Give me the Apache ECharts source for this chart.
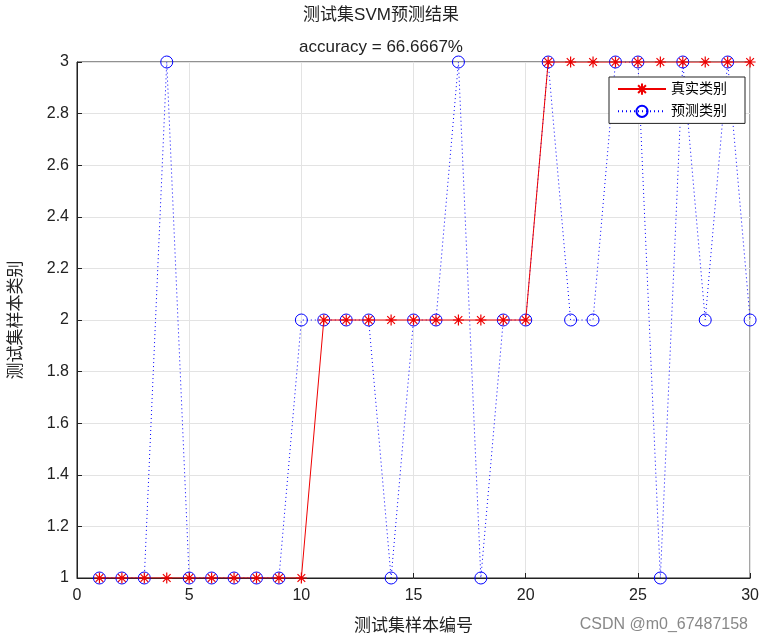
<!DOCTYPE html>
<html><head><meta charset="utf-8">
<script src="https://cdn.jsdelivr.net/npm/echarts@6/dist/echarts.min.js"></script>
<style>html,body{margin:0;padding:0;background:#fff}#c{width:762px;height:643px}</style>
</head><body><div id="c"></div>
<script>
const idx = [1,2,3,4,5,6,7,8,9,10,11,12,13,14,15,16,17,18,19,20,21,22,23,24,25,26,27,28,29,30];
const trueLabels = [1,1,1,1,1,1,1,1,1,1,2,2,2,2,2,2,2,2,2,2,3,3,3,3,3,3,3,3,3,3];
const predLabels = [1,1,1,3,1,1,1,1,1,2,2,2,2,1,2,2,3,1,2,2,3,2,2,3,3,1,3,2,3,2];
const accuracy = 66.6667;
const chart = echarts.init(document.getElementById('c'));
const font = 'Arial, "Noto Sans CJK SC", sans-serif';
chart.setOption({
  animation:false,
  title:[
    {text:'测试集SVM预测结果', left:'center', top:2, textStyle:{fontSize:17,fontWeight:'normal',color:'#222',fontFamily:font}},
    {text:'accuracy = ' + accuracy.toFixed(4) + '%', left:'center', top:34, textStyle:{fontSize:17,fontWeight:'normal',color:'#222',fontFamily:font}}
  ],
  grid:{left:70,right:11,top:62,bottom:65,show:true,borderColor:'#222',borderWidth:1},
  legend:{right:17,top:77,orient:'vertical',backgroundColor:'#fff',borderColor:'#222',borderWidth:1,
    padding:[4,18,4,8],itemGap:6,itemWidth:48,textStyle:{fontSize:14,color:'#000',fontFamily:font},
    data:['真实类别','预测类别']},
  xAxis:{type:'value',min:0,max:30,interval:5,name:'测试集样本编号',nameLocation:'middle',nameGap:40,
    nameTextStyle:{fontSize:17,color:'#222',fontFamily:font},
    axisLine:{lineStyle:{color:'#222'}},axisTick:{inside:true,lineStyle:{color:'#222'}},
    axisLabel:{fontSize:16,color:'#222',fontFamily:font,margin:10},
    splitLine:{lineStyle:{color:'#e3e3e3'}}},
  yAxis:{type:'value',min:1,max:3,interval:0.2,name:'测试集样本类别',nameLocation:'middle',nameGap:52,
    nameTextStyle:{fontSize:17,color:'#222',fontFamily:font},
    axisLine:{show:true,lineStyle:{color:'#222'}},axisTick:{show:true,inside:true,lineStyle:{color:'#222'}},
    axisLabel:{fontSize:16,color:'#222',fontFamily:font,formatter:v=>String(+v.toFixed(1))},
    splitLine:{lineStyle:{color:'#e3e3e3'}}},
  series:[
    {name:'真实类别',type:'line',data:idx.map((x,i)=>[x,trueLabels[i]]),
      symbol:'path://M0,-10L0,10M-10,0L10,0M-7,-7L7,7M-7,7L7,-7',symbolSize:11,
      lineStyle:{color:'#e00',width:1},itemStyle:{color:'none',borderColor:'#e00',borderWidth:1.2},z:3},
    {name:'预测类别',type:'line',data:idx.map((x,i)=>[x,predLabels[i]]),
      symbol:'circle',symbolSize:12,
      lineStyle:{color:'#00f',width:1,type:[1,3]},itemStyle:{color:'none',borderColor:'#00f',borderWidth:1},z:2}
  ],
  graphic:[{type:'text',right:14,bottom:10,style:{text:'CSDN @m0_67487158',fontSize:16,fill:'#888',fontFamily:font}}]
});
</script></body></html>
